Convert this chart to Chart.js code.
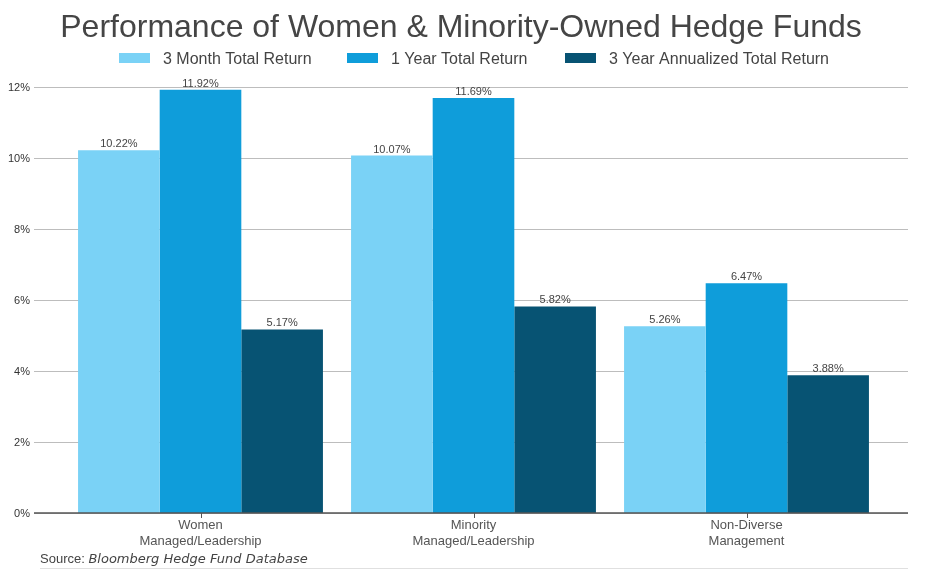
<!DOCTYPE html>
<html>
<head>
<meta charset="utf-8">
<script src="https://cdn.jsdelivr.net/npm/chart.js@4.4.0/dist/chart.umd.min.js"></script>
<style>
  html, body { margin: 0; padding: 0; background: #fff; }
  #wrap { width: 932px; height: 569px; position: relative; }
</style>
</head>
<body>
<div id="wrap"><canvas id="myChart"></canvas></div>
<script>
// Categorias y series
const categorias = [["Women", "Managed/Leadership"], ["Minority", "Managed/Leadership"], ["Non-Diverse", "Management"]];
const tresMeses = [10.22, 10.07, 5.26];
const unAnio = [11.92, 11.69, 6.47];
const tresAnios = [5.17, 5.82, 3.88];
const ticksY = [0, 2, 4, 6, 8, 10, 12];

const titulo = "Performance of Women & Minority-Owned Hedge Funds";
const colores = ["#7AD2F6", "#0F9DDA", "#075373"];
const nombres = ["3 Month Total Return", "1 Year Total Return", "3 Year Annualized Total Return"];

const FUENTE = "'Liberation Sans', Arial, sans-serif";

// Dibujo titulo, leyenda, rejilla, etiquetas y fuente
const extras = {
    id: "extras",
    beforeDatasetsDraw(chart) {
        const ctx = chart.ctx;
        const y = chart.scales.y;
        const x0 = 37, x1 = 908;
        ctx.save();
        // rejilla
        ticksY.forEach(v => {
            const py = Math.round(y.getPixelForValue(v)) + 0.5;
            ctx.strokeStyle = "#bdbdbd";
            ctx.lineWidth = 1;
            ctx.beginPath();
            ctx.moveTo(x0 - 3, py);
            ctx.lineTo(x1, py);
            ctx.stroke();
            // etiqueta eje y
            ctx.fillStyle = "#333";
            ctx.font = "11px " + FUENTE;
            ctx.textAlign = "right";
            ctx.textBaseline = "middle";
            ctx.fillText(v + "%", 30, py);
        });
        ctx.restore();
    },
    afterDatasetsDraw(chart) {
        const ctx = chart.ctx;
        const y = chart.scales.y;
        const x = chart.scales.x;
        ctx.save();
        // linea del eje
        const py0 = y.getPixelForValue(0);
        ctx.strokeStyle = "#555";
        ctx.lineWidth = 1.5;
        ctx.beginPath();
        ctx.moveTo(34, py0);
        ctx.lineTo(908, py0);
        ctx.stroke();
        ctx.lineWidth = 1;
        categorias.forEach((c, i) => {
            const px = Math.round(x.getPixelForValue(i)) + 0.5;
            ctx.beginPath();
            ctx.moveTo(px, py0);
            ctx.lineTo(px, py0 + 5);
            ctx.stroke();
        });

        // valores encima de las barras
        ctx.fillStyle = "#444";
        ctx.font = "11px " + FUENTE;
        ctx.textAlign = "center";
        ctx.textBaseline = "alphabetic";
        chart.data.datasets.forEach((ds, di) => {
            chart.getDatasetMeta(di).data.forEach((bar, i) => {
                ctx.fillText(ds.data[i].toFixed(2) + "%", bar.x, bar.y - 3);
            });
        });

        // titulo
        ctx.fillStyle = "#454545";
        ctx.font = "32px " + FUENTE;
        ctx.textAlign = "center";
        ctx.fillText(titulo, 461, 37);

        // leyenda
        const cajas = [119, 347, 565];
        ctx.font = "16px " + FUENTE;
        ctx.textAlign = "left";
        ctx.textBaseline = "alphabetic";
        nombres.forEach((n, i) => {
            ctx.fillStyle = colores[i];
            ctx.fillRect(cajas[i], 53, 31, 10);
            ctx.fillStyle = "#444";
            ctx.fillText(n, cajas[i] + 44, 64);
        });

        // fuente
        ctx.fillStyle = "#444";
        ctx.font = "13px " + FUENTE;
        ctx.fillText("Source: ", 40, 563);
        const w = ctx.measureText("Source: ").width;
        ctx.font = "italic 13px 'DejaVu Sans', Verdana, sans-serif";
        ctx.fillText("Bloomberg Hedge Fund Database", 40 + w, 563);
        ctx.strokeStyle = "#e0e0e0";
        ctx.beginPath();
        ctx.moveTo(40, 568.5);
        ctx.lineTo(908, 568.5);
        ctx.stroke();
        ctx.restore();
    }
};

const datos = {
    labels: categorias,
    datasets: [
        { label: nombres[0], data: tresMeses, backgroundColor: colores[0] },
        { label: nombres[1], data: unAnio, backgroundColor: colores[1] },
        { label: nombres[2], data: tresAnios, backgroundColor: colores[2] }
    ]
};

new Chart(document.getElementById("myChart"), {
    type: "bar",
    data: datos,
    options: {
        responsive: true,
        maintainAspectRatio: false,
        animation: false,
        layout: { padding: { top: 87, right: 49, left: 0, bottom: 0 } },
        datasets: { bar: { categoryPercentage: 0.897, barPercentage: 1.0 } },
        plugins: {
            legend: { display: false },
            title: { display: false },
            tooltip: { enabled: false }
        },
        scales: {
            x: {
                grid: { display: false, drawTicks: false },
                border: { display: false },
                ticks: { color: "#555", font: { family: FUENTE, size: 13, lineHeight: 1.2 }, padding: 5, maxRotation: 0 },
                afterFit(scale) { scale.height = 56; }
            },
            y: {
                min: 0,
                max: 12,
                grid: { display: false, drawTicks: false },
                border: { display: false },
                ticks: { display: false, stepSize: 2 },
                afterFit(scale) { scale.width = 64; }
            }
        }
    },
    plugins: [extras]
});
</script>
</body>
</html>
